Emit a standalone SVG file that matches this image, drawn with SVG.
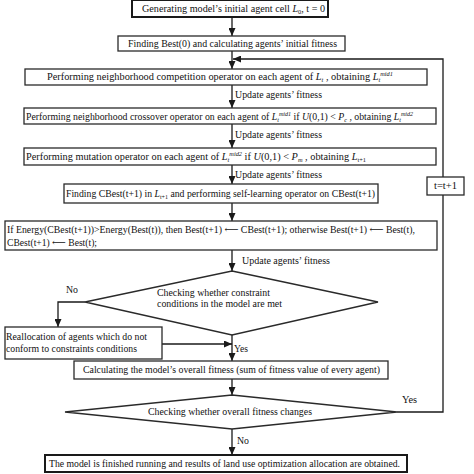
<svg xmlns="http://www.w3.org/2000/svg" width="474" height="474" viewBox="0 0 474 474" font-family="'Liberation Serif', 'DejaVu Serif', serif">
<defs>
<marker id="ah" markerUnits="userSpaceOnUse" markerWidth="8" markerHeight="7" refX="8" refY="3.5" orient="auto">
<path d="M0,0 L8,3.5 L0,7 z" fill="#1a1a1a"/>
</marker>
<style>
.b{fill:#fff;stroke:#2a2a2a;stroke-width:1.3}
.bb{fill:#fff;stroke:#1a1a1a;stroke-width:2}
.c{fill:none;stroke:#1a1a1a;stroke-width:1.3}
.ca{fill:none;stroke:#1a1a1a;stroke-width:1.3;marker-end:url(#ah)}
text{font-family:'Liberation Serif','DejaVu Serif',serif;font-size:10.5px;fill:#111}
.i{font-style:italic}
.s{font-size:6.5px}
</style>
</defs>
<rect width="474" height="474" fill="#fff"/>
<g id="connectors">
<line class="ca" x1="232" y1="17" x2="232" y2="36"/>
<line class="ca" x1="232" y1="51" x2="232" y2="69"/>
<polyline class="ca" points="397,412 443,412 443,59 233,59"/>
<line class="ca" x1="232" y1="85" x2="232" y2="108"/>
<line class="ca" x1="232" y1="124" x2="232" y2="148"/>
<line class="ca" x1="232" y1="165" x2="232" y2="184"/>
<line class="ca" x1="232" y1="203" x2="232" y2="221"/>
<line class="ca" x1="232" y1="250" x2="232" y2="271"/>
<polyline class="ca" points="85,302 58,302 58,327"/>
<line class="ca" x1="162" y1="344" x2="232" y2="344"/>
<line class="ca" x1="232" y1="335" x2="232" y2="361"/>
<line class="ca" x1="232" y1="379" x2="232" y2="395"/>
<line class="ca" x1="232" y1="429" x2="232" y2="455"/>
</g>
<g id="labels">
<text x="235" y="98" textLength="87" lengthAdjust="spacingAndGlyphs">Update agents’ fitness</text>
<text x="235" y="138" textLength="87" lengthAdjust="spacingAndGlyphs">Update agents’ fitness</text>
<text x="235" y="178" textLength="87" lengthAdjust="spacingAndGlyphs">Update agents’ fitness</text>
<text x="242" y="264" textLength="88" lengthAdjust="spacingAndGlyphs">Update agents’ fitness</text>
<text x="66" y="293" textLength="12" lengthAdjust="spacingAndGlyphs">No</text>
<text x="234" y="352" textLength="14" lengthAdjust="spacingAndGlyphs">Yes</text>
<text x="402" y="403" textLength="15" lengthAdjust="spacingAndGlyphs">Yes</text>
<text x="237" y="444" textLength="12" lengthAdjust="spacingAndGlyphs">No</text>
</g>
<g id="n1">
<rect class="bb" x="132" y="0" width="196" height="17"/>
<text x="142" y="12" textLength="183" lengthAdjust="spacingAndGlyphs">Generating model’s initial agent cell  <tspan class="i">L</tspan><tspan class="s" dy="2">0</tspan><tspan dy="-2">,   t = 0</tspan></text>
</g>
<g id="n2">
<rect class="b" x="118" y="36" width="227" height="15"/>
<text x="128" y="47" textLength="209" lengthAdjust="spacingAndGlyphs">Finding Best(0) and calculating agents’ initial fitness</text>
</g>
<g id="n3">
<rect class="b" x="25" y="69" width="402" height="16"/>
<text x="47" y="80" textLength="346" lengthAdjust="spacingAndGlyphs">Performing neighborhood competition operator on each agent of  <tspan class="i">L</tspan><tspan class="s i" dy="2">t</tspan><tspan dy="-2"> , obtaining  </tspan><tspan class="i">L</tspan><tspan class="s i" dy="2">t</tspan><tspan class="s i" dy="-6">mid1</tspan><tspan dy="4"> </tspan></text>
</g>
<g id="n4">
<rect class="b" x="24" y="108" width="412" height="16"/>
<text x="26" y="120" textLength="387" lengthAdjust="spacingAndGlyphs">Performing neighborhood crossover operator on each agent of  <tspan class="i">L</tspan><tspan class="s i" dy="2">t</tspan><tspan class="s i" dy="-6">mid1</tspan><tspan dy="4">  if  </tspan><tspan class="i">U</tspan>(0,1) &lt; <tspan class="i">P</tspan><tspan class="s i" dy="2">c</tspan><tspan dy="-2"> , obtaining  </tspan><tspan class="i">L</tspan><tspan class="s i" dy="2">t</tspan><tspan class="s i" dy="-6">mid2</tspan><tspan dy="4"> </tspan></text>
</g>
<g id="n5">
<rect class="b" x="24" y="148" width="412" height="17"/>
<text x="26" y="160" textLength="340" lengthAdjust="spacingAndGlyphs">Performing mutation operator on each agent of  <tspan class="i">L</tspan><tspan class="s i" dy="2">t</tspan><tspan class="s i" dy="-6">mid2</tspan><tspan dy="4">  if  </tspan><tspan class="i">U</tspan>(0,1) &lt; <tspan class="i">P</tspan><tspan class="s i" dy="2">m</tspan><tspan dy="-2"> , obtaining  </tspan><tspan class="i">L</tspan><tspan class="s" dy="2">t+1</tspan><tspan dy="-2"> </tspan></text>
</g>
<g id="n6">
<rect class="b" x="64" y="184" width="314" height="19"/>
<text x="66" y="197" textLength="309" lengthAdjust="spacingAndGlyphs">Finding CBest(t+1) in  <tspan class="i">L</tspan><tspan class="s" dy="2">t+1</tspan><tspan dy="-2"> and performing self-learning operator on CBest(t+1)</tspan></text>
</g>
<g id="n7">
<rect class="b" x="5" y="221" width="432" height="29"/>
<text x="7" y="233" textLength="408" lengthAdjust="spacingAndGlyphs"> If Energy(CBest(t+1))&gt;Energy(Best(t)), then Best(t+1) ⟵ CBest(t+1); otherwise Best(t+1) ⟵ Best(t),</text>
<text x="7" y="246" textLength="90" lengthAdjust="spacingAndGlyphs">CBest(t+1) ⟵ Best(t);</text>
</g>
<g id="d1">
<polygon class="b" points="232,271 378,302 232,335 85,302"/>
<text x="157" y="296" textLength="113" lengthAdjust="spacingAndGlyphs">Checking whether constraint</text>
<text x="157" y="307" textLength="125" lengthAdjust="spacingAndGlyphs">conditions in the model are met</text>
</g>
<g id="n8">
<rect class="b" x="5" y="327" width="157" height="32"/>
<text x="6" y="340" textLength="141" lengthAdjust="spacingAndGlyphs">Reallocation of agents which do not</text>
<text x="6" y="352" textLength="131" lengthAdjust="spacingAndGlyphs">conform to constraints conditions</text>
</g>
<g id="n9">
<rect class="b" x="74" y="361" width="314" height="18"/>
<text x="83" y="373" textLength="297" lengthAdjust="spacingAndGlyphs">Calculating the model’s overall fitness (sum of fitness value of every agent)</text>
</g>
<g id="d2">
<polygon class="b" points="232,395 397,412 232,429 65,412"/>
<text x="148" y="415" textLength="164" lengthAdjust="spacingAndGlyphs">Checking whether overall fitness changes</text>
</g>
<g id="n11">
<rect class="b" x="427" y="177" width="37" height="18"/>
<text x="434" y="189" textLength="23" lengthAdjust="spacingAndGlyphs">t=t+1</text>
</g>
<g id="n10">
<rect class="bb" x="45" y="455" width="362" height="17"/>
<text x="49" y="467" textLength="351" lengthAdjust="spacingAndGlyphs">The model is finished running and results of land use optimization allocation are obtained.</text>
</g>
</svg>
